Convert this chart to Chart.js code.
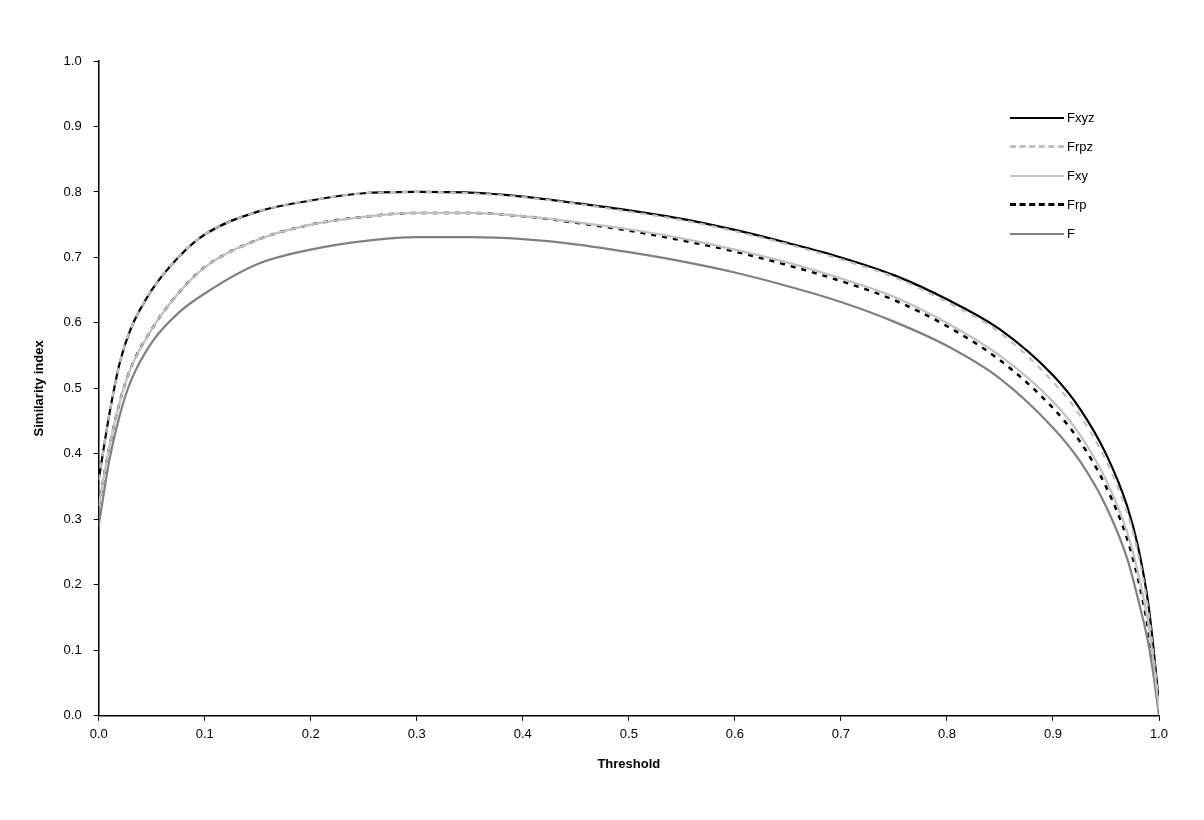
<!DOCTYPE html>
<html><head><meta charset="utf-8">
<script src="https://cdn.jsdelivr.net/npm/chart.js@4/dist/chart.umd.min.js"></script>
<style>
body{margin:0;background:#fff;font-family:"Liberation Sans",Arial,sans-serif}
#wrap{position:relative;width:1204px;height:820px}
#leg{position:absolute;left:1010px;top:103px;font-size:13px;color:#000}
.row{height:29px;display:flex;align-items:center}
.row span.l{display:inline-block;width:54px;height:0;margin-right:3px}
</style></head><body>
<div id="wrap"><canvas id="c" width="1204" height="820"></canvas>
<div id="leg"></div></div>
<script>
const thresholds=[0,0.01,0.02,0.03,0.05,0.075,0.1,0.15,0.2,0.25,0.3,0.35,0.4,0.45,0.5,0.55,0.6,0.65,0.7,0.75,0.8,0.85,0.9,0.925,0.95,0.97,0.98,0.99,0.995,1];
const Fxyz=[0.36,0.46,0.54,0.59,0.65,0.70,0.735,0.77,0.787,0.798,0.80,0.799,0.793,0.783,0.772,0.759,0.742,0.722,0.70,0.673,0.636,0.59,0.52,0.47,0.40,0.32,0.26,0.17,0.10,0.02];
const Frpz=[0.36,0.46,0.54,0.59,0.65,0.70,0.735,0.77,0.787,0.798,0.80,0.798,0.792,0.782,0.770,0.757,0.740,0.720,0.697,0.670,0.632,0.585,0.51,0.46,0.39,0.31,0.25,0.16,0.09,0.02];
const Fxy=[0.32,0.41,0.48,0.53,0.59,0.645,0.685,0.727,0.75,0.762,0.768,0.768,0.763,0.754,0.743,0.729,0.712,0.692,0.668,0.64,0.60,0.55,0.48,0.43,0.36,0.28,0.22,0.14,0.08,0.01];
const Frp=[0.32,0.41,0.48,0.53,0.59,0.645,0.685,0.727,0.75,0.762,0.768,0.768,0.763,0.753,0.741,0.726,0.709,0.688,0.664,0.635,0.595,0.543,0.47,0.42,0.35,0.27,0.21,0.13,0.07,0.01];
const F=[0.29,0.39,0.46,0.51,0.57,0.615,0.645,0.69,0.712,0.725,0.731,0.731,0.728,0.72,0.708,0.694,0.677,0.656,0.632,0.602,0.565,0.515,0.44,0.39,0.32,0.24,0.18,0.11,0.06,0.0];
const seriesNames=["Fxyz","Frpz","Fxy","Frp","F"];
const seriesVals=[Fxyz,Frpz,Fxy,Frp,F];
const styles=[{c:"#000",d:[],w:2.2},{c:"#c0c0c0",d:[6,6],w:2.2},{c:"#c0c0c0",d:[],w:2.2},{c:"#000",d:[5,6],w:2.5},{c:"#808080",d:[],w:2.2}];
const datasets=seriesNames.map((n,i)=>({label:n,data:thresholds.map((t,j)=>({x:t,y:seriesVals[i][j]})),borderColor:styles[i].c,borderDash:styles[i].d,borderWidth:styles[i].w,pointRadius:0,tension:0.4,cubicInterpolationMode:'monotone',fill:false}));
const order=[2,4,1,0,3];
const ds=order.map(i=>datasets[i]);
const font={family:"'Liberation Sans', Arial, sans-serif",size:13};
new Chart(document.getElementById('c'),{type:'line',data:{datasets:ds},options:{
 responsive:false,animation:false,
 layout:{padding:{left:28,right:45,top:61,bottom:44}},
 plugins:{legend:{display:false},tooltip:{enabled:false}},
 scales:{
  x:{type:'linear',min:0,max:1,ticks:{stepSize:0.1,color:'#000',font,callback:v=>v.toFixed(1),maxRotation:0,padding:6},
     grid:{drawOnChartArea:false,color:'#000',tickLength:5},border:{color:'#000',width:1.5},
     title:{display:true,text:'Threshold',color:'#000',font:{...font,weight:'bold'},padding:{top:8}}},
  y:{min:0,max:1,ticks:{stepSize:0.1,color:'#000',font,callback:v=>v.toFixed(1),padding:12},
     grid:{drawOnChartArea:false,color:'#000',tickLength:5},border:{color:'#000',width:1.5},
     title:{display:true,text:'Similarity index',color:'#000',font:{...font,weight:'bold'}}}
 }}});
const leg=document.getElementById('leg');
seriesNames.forEach((n,i)=>{const s=styles[i];const r=document.createElement('div');r.className='row';
 r.innerHTML=`<span class="l" style="border-top:${s.d.length?'3px dashed':'2.5px solid'} ${s.c}"></span>${n}`;leg.appendChild(r);});
</script></body></html>
